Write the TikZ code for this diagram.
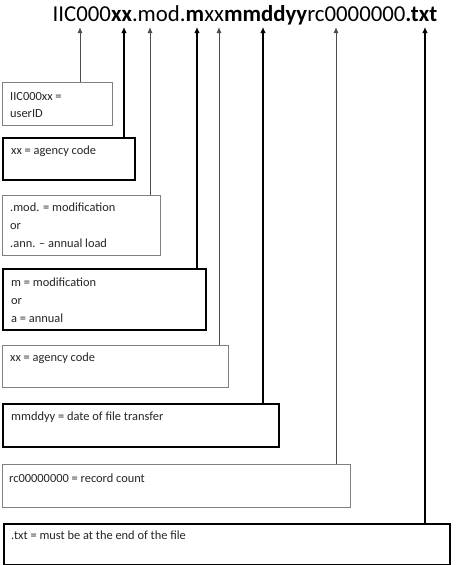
\documentclass[tikz,border=0pt]{standalone}
\usepackage{fontspec}
\setmainfont{Carlito}
\usetikzlibrary{arrows.meta}
\newcommand\myboxfont{\fontsize{12.4pt}{15pt}\selectfont}
\newcommand\mytitlefont{\fontsize{22.8pt}{26pt}\selectfont}
\tikzset{
  thinbox/.style={draw=black!50, line width=1.2pt, fill=white, anchor=north west, inner sep=0pt},
  thickbox/.style={draw=black, line width=2.2pt, fill=white, anchor=north west, inner sep=0pt},
  boxtext/.style={anchor=base west, inner sep=0pt, font=\myboxfont, text=black!85},
  thinarrow/.style={draw=black!70, line width=1pt, -{Latex[length=6pt,width=5pt]}},
  thickarrow/.style={draw=black, line width=2pt, -{Latex[length=6pt,width=5.5pt]}},
}
\begin{document}
\begin{tikzpicture}[x=1pt,y=-1pt]
\useasboundingbox (0,0) rectangle (474,565);
% title
\node[anchor=base, inner sep=0pt, font=\mytitlefont] (title) at (245,21)
  {IIC000\textbf{xx}.mod.\textbf{m}xx\textbf{mmddyy}rc0000000\textbf{.txt}};
% arrow tips
\coordinate (t1) at (80,27);
\coordinate (t2) at (124,27);
\coordinate (t3) at (150,27);
\coordinate (t4) at (197,27);
\coordinate (t5) at (219,27);
\coordinate (t6) at (263,27);
\coordinate (t7) at (336,27);
\coordinate (t8) at (425,27);
% boxes
\node[thinbox,  minimum width=110, minimum height=43] (b1) at (2,82) {};
\node[thickbox, minimum width=132, minimum height=42] (b2) at (2,137) {};
\node[thinbox,  minimum width=158, minimum height=60] (b3) at (2,195) {};
\node[thickbox, minimum width=203, minimum height=61] (b4) at (2,268) {};
\node[thinbox,  minimum width=226, minimum height=42] (b5) at (2,345) {};
\node[thickbox, minimum width=276, minimum height=43] (b6) at (2,403) {};
\node[thinbox,  minimum width=348, minimum height=43] (b7) at (2,464) {};
\node[thickbox, minimum width=446, minimum height=41] (b8) at (3,523) {};
% texts
\node[boxtext] (l1a) at (10,100) {IIC000xx =};
\node[boxtext] (l1b) at (10,117) {userID};
\node[boxtext] (l2) at (11,154) {xx = agency code};
\node[boxtext] (l3a) at (10,211) {.mod. = modification};
\node[boxtext] (l3b) at (10,229) {or};
\node[boxtext] (l3c) at (10,247) {.ann. – annual load};
\node[boxtext] (l4a) at (11,286) {m = modification};
\node[boxtext] (l4b) at (11,304) {or};
\node[boxtext] (l4c) at (11,322) {a = annual};
\node[boxtext] (l5) at (10,361) {xx = agency code};
\node[boxtext] (l6) at (11,420) {mmddyy = date of file transfer};
\node[boxtext] (l7) at (9,482) {rc00000000 = record count};
\node[boxtext] (l8) at (11,539) {.txt = must be at the end of the file};
% arrows
\draw[thinarrow]  (b1.north -| t1) -- (t1);
\draw[thickarrow] (b2.north -| t2) -- (t2);
\draw[thinarrow]  (b3.north -| t3) -- (t3);
\draw[thickarrow] (b4.north -| t4) -- (t4);
\draw[thinarrow]  (b5.north -| t5) -- (t5);
\draw[thickarrow] (b6.north -| t6) -- (t6);
\draw[thinarrow]  (b7.north -| t7) -- (t7);
\draw[thickarrow] (b8.north -| t8) -- (t8);
\end{tikzpicture}
\end{document}
